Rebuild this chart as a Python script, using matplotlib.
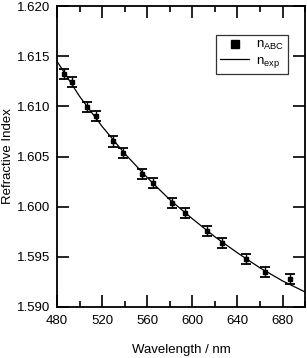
import matplotlib
matplotlib.use("Agg")
import matplotlib.pyplot as plt
from matplotlib.ticker import MultipleLocator, FormatStrFormatter
from matplotlib.lines import Line2D

plt.rcParams['font.family'] = ['Liberation Sans', 'DejaVu Sans']
plt.rcParams['mathtext.fontset'] = 'custom'
plt.rcParams['mathtext.rm'] = 'Liberation Sans'
plt.rcParams['mathtext.it'] = 'Liberation Sans'

# n_ABC data points
wl_abc = [486.2, 493.0, 507.0, 514.7, 529.5, 538.4, 555.3, 565.0, 582.0, 593.8, 613.0, 626.4, 648.0, 664.3, 687.0]
n_abc = [1.6132, 1.6124, 1.6099, 1.6090, 1.6065, 1.6054, 1.6033, 1.6024, 1.6004, 1.5994, 1.5976, 1.5964, 1.5948, 1.5935, 1.5928]
n_err = [0.0005] * len(wl_abc)

# n_exp curve
wl_exp = [480, 500, 520, 540, 560, 580, 600, 620, 640, 660, 680, 700]
n_exp = [1.6145, 1.6110, 1.6080, 1.6053, 1.6029, 1.6007, 1.5988, 1.5970, 1.5954, 1.5939, 1.5926, 1.5915]

fig = plt.figure(figsize=(3.07, 3.58), dpi=100)
ax = fig.add_axes([0.1857, 0.1425, 0.808, 0.8405])

ax.plot(wl_exp, n_exp, color='black', lw=0.9, zorder=2)
ax.errorbar(wl_abc, n_abc, yerr=n_err, fmt='s', color='black', ms=3.2,
            elinewidth=1.0, capsize=3.5, capthick=1.3, zorder=3)

ax.set_xlim(480, 700)
ax.set_ylim(1.590, 1.620)
ax.xaxis.set_major_locator(MultipleLocator(40))
ax.xaxis.set_minor_locator(MultipleLocator(20))
ax.yaxis.set_major_locator(MultipleLocator(0.005))
ax.yaxis.set_major_formatter(FormatStrFormatter('%.3f'))

ax.tick_params(which='both', direction='in', top=True, right=True, width=1.2, labelsize=9.5)
ax.tick_params(which='major', length=8.5)
ax.tick_params(which='minor', length=4.3)
ax.tick_params(axis='x', pad=6)
ax.tick_params(axis='y', pad=5)
for s in ax.spines.values():
    s.set_linewidth(1.3)

ax.set_xlabel('Wavelength / nm', fontsize=9.5, va='center')
ax.xaxis.set_label_coords(0.5, -0.143)
ax.set_ylabel('Refractive Index', fontsize=9.5, va='center')
ax.yaxis.set_label_coords(-0.198, 0.5)

handles = [Line2D([], [], marker='s', color='black', ls='none', ms=5.5),
           Line2D([], [], color='black', lw=0.9)]
labels = [r'n$_{\mathrm{ABC}}$', r'n$_{\mathrm{exp}}$']
leg = ax.legend(handles, labels, loc='upper right', bbox_to_anchor=(0.931, 0.904),
                fontsize=9.5, frameon=True, fancybox=False, edgecolor='black',
                handlelength=2.2, borderpad=0.3, labelspacing=0.15, handletextpad=0.5,
                borderaxespad=0.0)
leg.get_frame().set_linewidth(0.9)

fig.savefig('out.png', dpi=100)
